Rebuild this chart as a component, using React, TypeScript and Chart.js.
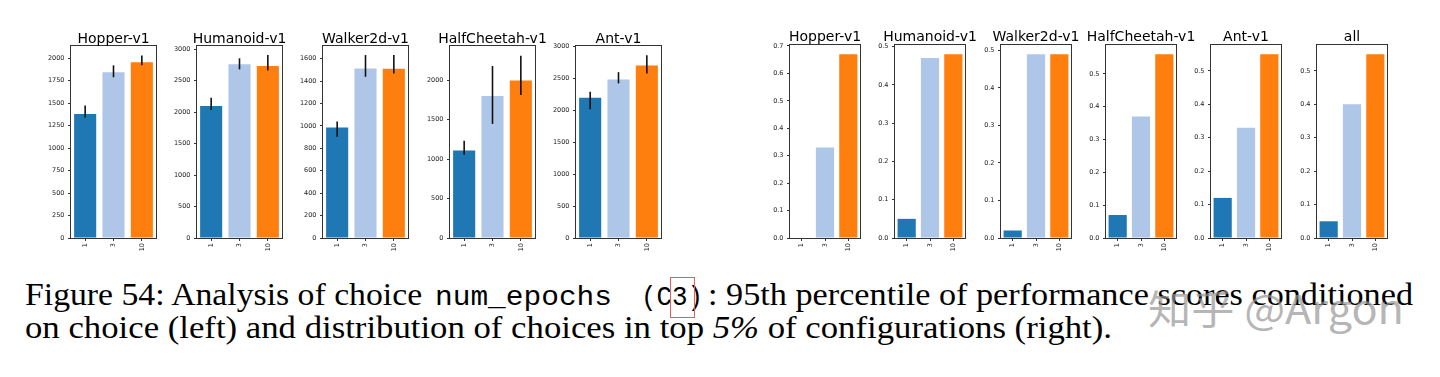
import React, { useEffect, useRef } from 'react';
import { Chart, registerables } from 'chart.js';

Chart.register(...registerables);

// ---------------- data ----------------
const categories = ['1', '3', '10'];
const barColors = ['#1f77b4', '#aec7e8', '#ff7f0e'];

// left: 95th percentile of performance (with error bars)
const leftTitles = ['Hopper-v1', 'Humanoid-v1', 'Walker2d-v1', 'HalfCheetah-v1', 'Ant-v1'];
const hopperScore = [1381, 1844, 1955];
const hopperLow = [1340, 1789, 1922];
const hopperHigh = [1474, 1922, 2030];
const humanoidScore = [2097, 2761, 2735];
const humanoidLow = [2034, 2681, 2665];
const humanoidHigh = [2230, 2857, 2910];
const walkerScore = [986, 1514, 1511];
const walkerLow = [903, 1439, 1469];
const walkerHigh = [1040, 1633, 1633];
const cheetahScore = [1110, 1802, 1996];
const cheetahLow = [1055, 1447, 1814];
const cheetahHigh = [1232, 2181, 2312];
const antScore = [2194, 2480, 2698];
const antLow = [2012, 2418, 2574];
const antHigh = [2288, 2594, 2860];
const leftYMax = [2137, 3053, 1714, 2435, 3003];
const hopperTicks = [0, 250, 500, 750, 1000, 1250, 1500, 1750, 2000];
const humanoidTicks = [0, 500, 1000, 1500, 2000, 2500, 3000];
const walkerTicks = [0, 200, 400, 600, 800, 1000, 1200, 1400, 1600];
const cheetahTicks = [0, 500, 1000, 1500, 2000];
const antTicks = [0, 500, 1000, 1500, 2000, 2500, 3000];

// right: distribution of choices in top 5%
const rightTitles = ['Hopper-v1', 'Humanoid-v1', 'Walker2d-v1', 'HalfCheetah-v1', 'Ant-v1', 'all'];
const hopperShare = [0, 0.33, 0.67];
const humanoidShare = [0.05, 0.47, 0.48];
const walkerShare = [0.02, 0.49, 0.49];
const cheetahShare = [0.07, 0.37, 0.56];
const antShare = [0.12, 0.33, 0.55];
const allShare = [0.05, 0.4, 0.55];
const rightYMax = [0.7035, 0.504, 0.5145, 0.588, 0.5775, 0.5775];
const ticks07 = [0, 0.1, 0.2, 0.3, 0.4, 0.5, 0.6, 0.7];
const ticks05 = [0, 0.1, 0.2, 0.3, 0.4, 0.5];

// caption
const captionA = 'Figure 54: Analysis of choice';
const captionMono = 'num_epochs';
const captionMono2 = '(C3)';
const captionB = ': 95th percentile of performance scores conditioned';
const caption2a = 'on choice (left) and distribution of choices in top ';
const caption2b = '5%';
const caption2c = ' of configurations (right).';
const watermark = '知乎 @Argon';

// ---------------- layout ----------------
const Y_AXIS_W = 40;
const TITLE_H = 26;
const X_AXIS_H = 22;
const RIGHT_PAD = 24;
const FONT = '"DejaVu Sans", sans-serif';
const SERIF = '"Liberation Serif", "Times New Roman", serif';
const MONO = '"Liberation Mono", "Courier New", monospace';

type Spec = {
  title: string;
  values: number[];
  low?: number[];
  high?: number[];
  yMax: number;
  ticks: number[];
  decimals: number;
  left: number;
  top: number;
  width: number;
  height: number;
  titleGap: number;
};

const leftValues = [hopperScore, humanoidScore, walkerScore, cheetahScore, antScore];
const leftLows = [hopperLow, humanoidLow, walkerLow, cheetahLow, antLow];
const leftHighs = [hopperHigh, humanoidHigh, walkerHigh, cheetahHigh, antHigh];
const leftTicks = [hopperTicks, humanoidTicks, walkerTicks, cheetahTicks, antTicks];
const rightValues = [hopperShare, humanoidShare, walkerShare, cheetahShare, antShare, allShare];
const rightTicks = [ticks07, ticks05, ticks05, ticks05, ticks05, ticks05];

const specs: Spec[] = [
  ...leftTitles.map((t, i) => ({
    title: t,
    values: leftValues[i],
    low: leftLows[i],
    high: leftHighs[i],
    yMax: leftYMax[i],
    ticks: leftTicks[i],
    decimals: 0,
    left: Math.round(70.7 + 126.3 * i),
    top: 46,
    width: 85,
    height: 192,
    titleGap: 3,
  })),
  ...rightTitles.map((t, i) => ({
    title: t,
    values: rightValues[i],
    yMax: rightYMax[i],
    ticks: rightTicks[i],
    decimals: 1,
    left: Math.round(790 + 105.35 * i),
    top: 45,
    width: 70,
    height: 193,
    titleGap: 4,
  })),
];

const framePlugin = {
  id: 'frame',
  afterDatasetsDraw(chart: any) {
    const { ctx, chartArea } = chart;
    ctx.save();
    ctx.strokeStyle = '#333';
    ctx.lineWidth = 1;
    ctx.strokeRect(chartArea.left - 0.5, chartArea.top - 0.5, chartArea.right - chartArea.left + 1, chartArea.bottom - chartArea.top + 1);
    ctx.restore();
  },
};

function Panel({ spec }: { spec: Spec }) {
  const ref = useRef<HTMLCanvasElement>(null);
  const cw = Y_AXIS_W + spec.width + RIGHT_PAD;
  const ch = TITLE_H + spec.height + X_AXIS_H;
  useEffect(() => {
    if (!ref.current) return;
    const errPlugin = {
      id: 'err',
      afterDatasetsDraw(chart: any) {
        if (!spec.low || !spec.high) return;
        const { ctx } = chart;
        const meta = chart.getDatasetMeta(0);
        const y = chart.scales.y;
        ctx.save();
        ctx.strokeStyle = '#111';
        ctx.lineWidth = 1.6;
        meta.data.forEach((bar: any, i: number) => {
          ctx.beginPath();
          ctx.moveTo(bar.x, y.getPixelForValue(spec.low![i]));
          ctx.lineTo(bar.x, y.getPixelForValue(spec.high![i]));
          ctx.stroke();
        });
        ctx.restore();
      },
    };
    const titlePlugin = {
      id: 'ptitle',
      afterDraw(chart: any) {
        const { ctx, chartArea } = chart;
        ctx.save();
        ctx.font = `14px ${FONT}`;
        ctx.fillStyle = '#000';
        ctx.textAlign = 'center';
        ctx.textBaseline = 'alphabetic';
        ctx.fillText(spec.title, (chartArea.left + chartArea.right) / 2, chartArea.top - spec.titleGap);
        ctx.restore();
      },
    };
    const tickFont = { family: FONT, size: 6.5 };
    const chart = new Chart(ref.current, {
      type: 'bar',
      data: {
        labels: categories,
        datasets: [
          {
            data: spec.values,
            backgroundColor: barColors,
            borderWidth: 0,
            barPercentage: 0.78,
            categoryPercentage: 1,
          },
        ],
      },
      options: {
        responsive: false,
        animation: false,
        devicePixelRatio: 1,
        layout: { padding: { left: 0, right: RIGHT_PAD, top: TITLE_H, bottom: 0 } },
        plugins: { legend: { display: false }, tooltip: { enabled: false }, title: { display: false } },
        scales: {
          x: {
            grid: { display: true, drawOnChartArea: false, drawTicks: true, tickLength: 3, color: '#333', offset: false },
            border: { display: false },
            ticks: { minRotation: 90, maxRotation: 90, autoSkip: false, padding: 2, color: '#222', font: tickFont },
            afterFit: (s: any) => {
              s.height = X_AXIS_H;
            },
          },
          y: {
            min: 0,
            max: spec.yMax,
            grid: { display: true, drawOnChartArea: false, drawTicks: true, tickLength: 3, color: '#333' },
            border: { display: false },
            ticks: {
              padding: 3.5,
              color: '#222',
              font: tickFont,
              callback: (v: any) => Number(v).toFixed(spec.decimals),
            },
            afterBuildTicks: (s: any) => {
              s.ticks = spec.ticks.map((v) => ({ value: v }));
            },
            afterFit: (s: any) => {
              s.width = Y_AXIS_W;
            },
          },
        },
      } as any,
      plugins: [framePlugin, errPlugin, titlePlugin],
    });
    return () => chart.destroy();
  }, []);
  return (
    <canvas
      ref={ref}
      width={cw}
      height={ch}
      style={{ position: 'absolute', left: spec.left - Y_AXIS_W, top: spec.top - TITLE_H, width: cw, height: ch }}
    />
  );
}

const measureCtx = document.createElement('canvas').getContext('2d')!;

type Seg = { text: string; italic?: boolean };

function FitText(props: { segs: Seg[]; x: number; width: number; baseline: number; family: string; size: number; color?: string; z?: number }) {
  const { segs, x, width, baseline, family, size } = props;
  let total = 0;
  let asc = size * 0.891;
  let desc = size * 0.216;
  segs.forEach((s, i) => {
    measureCtx.font = `${s.italic ? 'italic ' : ''}${size}px ${family}`;
    const m = measureCtx.measureText(s.text);
    total += m.width;
    if (i === 0 && (m as any).fontBoundingBoxAscent) {
      asc = (m as any).fontBoundingBoxAscent;
      desc = (m as any).fontBoundingBoxDescent;
    }
  });
  const k = width / total;
  const top = baseline - ((size - (asc + desc)) / 2 + asc);
  return (
    <div
      style={{
        position: 'absolute',
        left: x,
        top,
        fontFamily: family,
        fontSize: size,
        lineHeight: `${size}px`,
        whiteSpace: 'pre',
        color: props.color || '#000',
        transform: `scaleX(${k})`,
        transformOrigin: 'left top',
        zIndex: props.z || 1,
      }}
    >
      {segs.map((s, i) => (
        <span key={i} style={{ fontStyle: s.italic ? 'italic' : 'normal' }}>
          {s.text}
        </span>
      ))}
    </div>
  );
}

export default function App() {
  return (
    <div style={{ position: 'absolute', left: 0, top: 0, width: 1440, height: 377, background: '#fff', overflow: 'hidden' }}>
      {specs.map((s, i) => (
        <Panel key={i} spec={s} />
      ))}
      <FitText segs={[{ text: captionA }]} x={25} width={399} baseline={305} family={SERIF} size={31} />
      <FitText segs={[{ text: captionMono }]} x={435} width={177} baseline={305} family={MONO} size={27} />
      <FitText segs={[{ text: captionMono2 }]} x={641} width={62} baseline={305} family={MONO} size={27} />
      <div style={{ position: 'absolute', left: 670, top: 277, width: 25, height: 41, border: '1px solid #e06060', boxSizing: 'border-box', zIndex: 2 }} />
      <FitText segs={[{ text: captionB }]} x={708} width={705} baseline={305} family={SERIF} size={31} />
      <FitText
        segs={[{ text: caption2a }, { text: caption2b, italic: true }, { text: caption2c }]}
        x={25}
        width={1087}
        baseline={338}
        family={SERIF}
        size={31}
      />
      <FitText segs={[{ text: watermark }]} x={1148} width={256} baseline={324} family={'"Noto Sans CJK SC", sans-serif'} size={40} color={'rgba(150,150,150,0.7)'} z={3} />
    </div>
  );
}
